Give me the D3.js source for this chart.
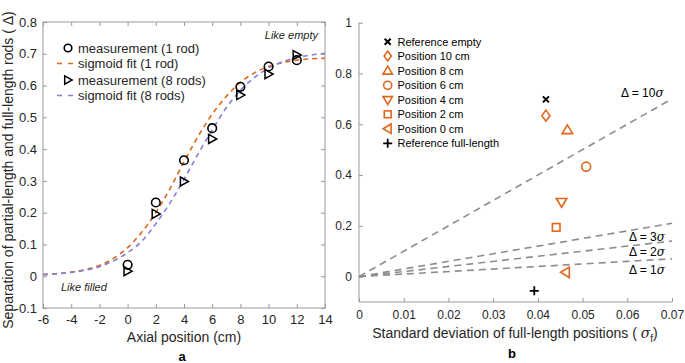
<!DOCTYPE html>
<html><head><meta charset="utf-8">
<script src="https://cdn.jsdelivr.net/npm/d3@7"></script>
<style>body{margin:0;background:#fff}svg{font-family:Arial,"Liberation Sans",sans-serif}</style>
</head><body><svg id="c" width="685" height="363"></svg>
<script>
// ---- Panel a data ----
const axialPos = [0, 2, 4, 6, 8, 10, 12];
const meas1Rod = [0.036, 0.232, 0.365, 0.466, 0.596, 0.660, 0.680];
const meas8Rods = [0.016, 0.196, 0.298, 0.432, 0.570, 0.636, 0.696];
const fitX = [-6,-5,-4,-3,-2,-1,0,1,2,3,4,5,6,7,8,9,10,11,12,13,14];
const fit1Rod = [0.005,0.008,0.013,0.021,0.034,0.056,0.090,0.138,0.200,0.275,0.360,0.440,0.510,0.566,0.610,0.640,0.660,0.672,0.680,0.684,0.686];
const fit8Rods = [0.005,0.008,0.012,0.019,0.030,0.048,0.074,0.110,0.165,0.230,0.305,0.385,0.460,0.530,0.585,0.625,0.655,0.675,0.688,0.696,0.701];
const aXTicks = [-6,-4,-2,0,2,4,6,8,10,12,14];
const aYTicks = [-0.1,0,0.1,0.2,0.3,0.4,0.5,0.6,0.7,0.8];

// ---- Panel b data ----
const bLabels = ["Reference empty","Position 10 cm","Position 8 cm","Position 6 cm","Position 4 cm","Position 2 cm","Position 0 cm","Reference full-length"];
const bSigma = [0.0418, 0.0418, 0.0466, 0.0508, 0.0453, 0.0441, 0.0462, 0.0392];
const bDelta = [0.698, 0.634, 0.578, 0.433, 0.293, 0.194, 0.017, -0.056];
const bSymbols = ["x","diamond","up","circle","down","square","left","plus"];
const bColors = ["#000","#e0661a","#e0661a","#e0661a","#e0661a","#e0661a","#e0661a","#000"];
const kLines = [10, 3, 2, 1];
const bXTicks = [0,0.01,0.02,0.03,0.04,0.05,0.06,0.07];
const bYTicks = [0,0.2,0.4,0.6,0.8,1];

const ORANGE = "#e0661a", BLUE = "#8080d8", AX = "#9a9a9a", TXT = "#262626";
const svg = d3.select("#c");
const hy = s => s.replace("\u2212","-");

// ================= Panel a =================
const ax = d3.scaleLinear().domain([-6,14]).range([43,325]);
const ay = d3.scaleLinear().domain([-0.1,0.8]).range([308,22]);
const ga = svg.append("g");
ga.append("rect").attr("x",43).attr("y",22).attr("width",282).attr("height",286)
  .attr("fill","none").attr("stroke",AX).attr("stroke-width",1);
const axB = ga.append("g").attr("transform","translate(0,308)")
  .call(d3.axisBottom(ax).tickValues(aXTicks).tickSize(-4).tickPadding(7).tickFormat(d=>hy(String(d))));
const axT = ga.append("g").attr("transform","translate(0,22)")
  .call(d3.axisTop(ax).tickValues(aXTicks).tickSize(-4).tickFormat(""));
const ayL = ga.append("g").attr("transform","translate(43,0)")
  .call(d3.axisLeft(ay).tickValues(aYTicks).tickSize(-4).tickPadding(6).tickFormat(d=>d===0?"0":hy(d3.format(".1f")(d))));
const ayR = ga.append("g").attr("transform","translate(325,0)")
  .call(d3.axisRight(ay).tickValues(aYTicks).tickSize(-4).tickFormat(""));
[axB,axT,ayL,ayR].forEach(g=>{
  g.select(".domain").remove();
  g.selectAll(".tick line").attr("stroke",AX);
  g.selectAll("text").attr("fill",TXT).attr("font-size",13).attr("font-family","Arial, Liberation Sans, sans-serif");
});
axB.selectAll("text").attr("dy","0.71em");

const line = d3.line().x((d,i)=>ax(fitX[i])).y(d=>ay(d)).curve(d3.curveMonotoneX);
ga.append("path").attr("d",line(fit1Rod)).attr("fill","none").attr("stroke",ORANGE)
  .attr("stroke-width",1.6).attr("stroke-dasharray","5,4");
ga.append("path").attr("d",line(fit8Rods)).attr("fill","none").attr("stroke",BLUE)
  .attr("stroke-width",1.6).attr("stroke-dasharray","5,4");

const triR = (cx,cy,s)=>`M${cx-s*0.6},${cy-s*0.75}L${cx+s*0.75},${cy}L${cx-s*0.6},${cy+s*0.75}Z`;
ga.selectAll(".c1").data(meas1Rod).enter().append("circle")
  .attr("cx",(d,i)=>ax(axialPos[i])).attr("cy",d=>ay(d)).attr("r",4.3)
  .attr("fill","none").attr("stroke","#000").attr("stroke-width",1.6);
ga.selectAll(".t8").data(meas8Rods).enter().append("path")
  .attr("d",(d,i)=>triR(ax(axialPos[i]),ay(d),6))
  .attr("fill","none").attr("stroke","#000").attr("stroke-width",1.5);

ga.append("text").attr("x",318).attr("y",39).attr("text-anchor","end").attr("font-style","italic")
  .attr("font-size",11).attr("fill",TXT).text("Like empty");
ga.append("text").attr("x",61).attr("y",291).attr("font-style","italic")
  .attr("font-size",11).attr("fill",TXT).text("Like filled");

const legA = [
  {t:"measurement (1 rod)", k:"circle"},
  {t:"sigmoid fit (1 rod)", k:"line", c:ORANGE},
  {t:"measurement (8 rods)", k:"tri"},
  {t:"sigmoid fit (8 rods)", k:"line", c:BLUE}
];
const legY = [48, 63.5, 80, 95.5];
legA.forEach((d,i)=>{
  const y = legY[i];
  if (d.k==="circle") ga.append("circle").attr("cx",68).attr("cy",y).attr("r",3.8).attr("fill","none").attr("stroke","#000").attr("stroke-width",1.6);
  if (d.k==="tri") ga.append("path").attr("d",triR(68,y,5.5)).attr("fill","none").attr("stroke","#000").attr("stroke-width",1.5);
  if (d.k==="line") ga.append("line").attr("x1",57).attr("x2",78).attr("y1",y).attr("y2",y)
    .attr("stroke",d.c).attr("stroke-width",1.6).attr("stroke-dasharray","5,6");
  ga.append("text").attr("x",78).attr("y",y).attr("dy","0.36em").attr("font-size",13).attr("fill",TXT).text(d.t);
});

ga.append("text").attr("x",184).attr("y",342).attr("text-anchor","middle").attr("font-size",14).attr("fill",TXT).text("Axial position (cm)");
ga.append("text").attr("transform","translate(13,170) rotate(-90)").attr("text-anchor","middle")
  .attr("font-size",14).attr("fill",TXT).text("Separation of partial-length and full-length rods ( \u0394)");
ga.append("text").attr("x",182).attr("y",361).attr("text-anchor","middle").attr("font-size",13).attr("font-weight","bold").attr("fill","#000").text("a");

// ================= Panel b =================
const bx = d3.scaleLinear().domain([0,0.07]).range([359,672]);
const by = d3.scaleLinear().domain([-0.1,1]).range([302,22.7]);
const gb = svg.append("g");
gb.append("line").attr("x1",359).attr("x2",359).attr("y1",22.7).attr("y2",302).attr("stroke",AX);
gb.append("line").attr("x1",359).attr("x2",672).attr("y1",302).attr("y2",302).attr("stroke",AX);
const bxA = gb.append("g").attr("transform","translate(0,302)")
  .call(d3.axisBottom(bx).tickValues(bXTicks).tickSize(-4).tickPadding(8).tickFormat(d=>d===0?"0":d3.format(".2f")(d)));
const byA = gb.append("g").attr("transform","translate(359,0)")
  .call(d3.axisLeft(by).tickValues(bYTicks).tickSize(-4).tickPadding(7).tickFormat(d=>d===0||d===1?String(d):d3.format(".1f")(d)));
[bxA,byA].forEach(g=>{
  g.select(".domain").remove();
  g.selectAll(".tick line").attr("stroke",AX);
  g.selectAll("text").attr("fill",TXT).attr("font-size",12).attr("font-family","Arial, Liberation Sans, sans-serif");
});
bxA.selectAll("text").attr("dy","0.71em");

kLines.forEach(k=>{
  gb.append("line").attr("x1",bx(0)).attr("y1",by(0)).attr("x2",bx(0.07)).attr("y2",by(k*0.07))
    .attr("stroke","#8c8c8c").attr("stroke-width",1.6).attr("stroke-dasharray","7,5");
});
const kLab = [{k:10,x:621,y:97},{k:3,x:629,y:241},{k:2,x:629,y:256},{k:1,x:629,y:274}];
kLab.forEach(d=>{
  const t = gb.append("text").attr("x",d.x).attr("y",d.y).attr("font-size",12).attr("fill","#000");
  t.append("tspan").text("\u0394 = "+d.k);
  t.append("tspan").attr("font-style","italic").attr("font-family","DejaVu Serif, serif").text("\u03c3");
});

function sym(g, type, cx, cy, col, s){
  const sw = 1.6;
  if (type==="x") {
    g.append("path").attr("d",`M${cx-3},${cy-3}L${cx+3},${cy+3}M${cx-3},${cy+3}L${cx+3},${cy-3}`).attr("stroke",col).attr("stroke-width",2);
  } else if (type==="plus") {
    g.append("path").attr("d",`M${cx-4.5},${cy}L${cx+4.5},${cy}M${cx},${cy-4.5}L${cx},${cy+4.5}`).attr("stroke",col).attr("stroke-width",1.8);
  } else if (type==="circle") {
    g.append("circle").attr("cx",cx).attr("cy",cy).attr("r",s*0.45).attr("fill","none").attr("stroke",col).attr("stroke-width",sw);
  } else if (type==="square") {
    const h=s*0.38; g.append("rect").attr("x",cx-h).attr("y",cy-h).attr("width",2*h).attr("height",2*h).attr("fill","none").attr("stroke",col).attr("stroke-width",sw);
  } else if (type==="diamond") {
    const h=s*0.55, w=s*0.4; g.append("path").attr("d",`M${cx},${cy-h}L${cx+w},${cy}L${cx},${cy+h}L${cx-w},${cy}Z`).attr("fill","none").attr("stroke",col).attr("stroke-width",sw);
  } else {
    const h=s*0.5;
    let p;
    if (type==="up") p=`M${cx},${cy-h}L${cx+h*1.05},${cy+h*0.75}L${cx-h*1.05},${cy+h*0.75}Z`;
    if (type==="down") p=`M${cx},${cy+h}L${cx+h*1.05},${cy-h*0.75}L${cx-h*1.05},${cy-h*0.75}Z`;
    if (type==="left") p=`M${cx-h},${cy}L${cx+h*0.75},${cy-h*1.05}L${cx+h*0.75},${cy+h*1.05}Z`;
    g.append("path").attr("d",p).attr("fill","none").attr("stroke",col).attr("stroke-width",sw);
  }
}
bSigma.forEach((s,i)=> sym(gb, bSymbols[i], bx(s), by(bDelta[i]), bColors[i], 10));

const legBY = [41.7,56,70.7,85.3,100,114.3,128.7,143.3];
bLabels.forEach((t,i)=>{
  sym(gb, bSymbols[i], 387.7, legBY[i], bColors[i], 9);
  gb.append("text").attr("x",397.5).attr("y",legBY[i]).attr("dy","0.36em").attr("font-size",11).attr("fill","#000").text(t);
});

const xl = gb.append("text").attr("x",515).attr("y",338).attr("text-anchor","middle").attr("font-size",14).attr("fill",TXT);
xl.append("tspan").text("Standard deviation of full-length positions ( ");
xl.append("tspan").attr("font-style","italic").attr("font-family","DejaVu Serif, serif").text("\u03c3");
xl.append("tspan").attr("font-size",10).attr("dy",4).text("f");
xl.append("tspan").attr("dy",-4).text(")");
gb.append("text").attr("x",512).attr("y",358).attr("text-anchor","middle").attr("font-size",13).attr("font-weight","bold").attr("fill","#000").text("b");
</script></body></html>
